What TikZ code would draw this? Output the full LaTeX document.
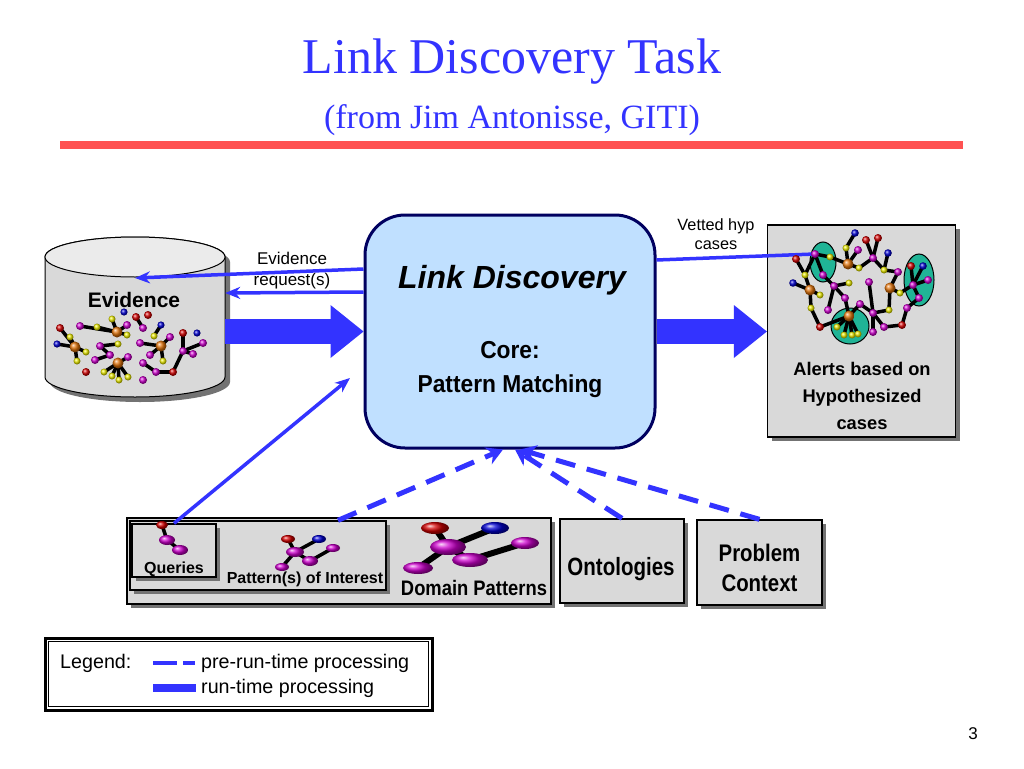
\documentclass[tikz,border=0pt]{standalone}
\usepackage{fontspec}
\setmainfont{Liberation Sans}
\newfontfamily\titlefont{Liberation Serif}
\usepackage{tikz}
\usetikzlibrary{arrows.meta,positioning,shadows}
\definecolor{runblue}{RGB}{51,51,255}
\definecolor{corefill}{RGB}{192,224,255}
\definecolor{coreline}{RGB}{0,0,96}
\definecolor{boxgray}{RGB}{217,217,217}
\definecolor{rulered}{RGB}{255,82,82}
\definecolor{hypteal}{RGB}{32,180,150}
\definecolor{atomorg}{RGB}{225,115,10}
\definecolor{atommag}{RGB}{205,0,205}
\definecolor{atomyel}{RGB}{235,235,0}
\definecolor{atomred}{RGB}{210,0,0}
\definecolor{atomblu}{RGB}{0,0,210}
\tikzset{
   shadowed/.style={drop shadow={shadow xshift=4pt, shadow yshift=-4pt, opacity=1, fill=black!55}},
   stick/.style={line width=3.5pt, black, line cap=round},
   btxt/.style 2 args={font=\fontsize{#1}{#2}\selectfont\bfseries, align=center, inner sep=0pt},
   ntxt/.style n args={3}{font=\fontsize{#1}{#2}\selectfont\bfseries\addfontfeature{FakeStretch=#3}, align=center, inner sep=0pt},
   rtxt/.style 2 args={font=\fontsize{#1}{#2}\selectfont, align=center, inner sep=0pt},
}
\tikzstyle{graybox} = [draw=black, line width=1.3pt, fill=boxgray, shadowed, inner sep=0pt]
\tikzstyle{corebox} = [draw=coreline, line width=3pt, fill=corefill, rounded corners=40pt, inner sep=0pt,
    minimum width=290pt, minimum height=233pt]
\tikzstyle{runarrow} = [runblue, line width=3.5pt, -{Stealth[length=15pt,width=12pt]}]
\tikzstyle{fatarrow} = [runblue, line width=25pt, -{Triangle[length=33pt,width=53pt,line width=0pt]}]
\tikzstyle{prearrow} = [runblue, line width=5pt, dash pattern=on 20pt off 12pt, -{Stealth[length=16pt,width=18pt]}]
\newcommand{\blob}[4]{\shade[ball color=#2] (#1) ellipse (#3pt and #4pt);}
\newcommand{\dbpath}{(45,257) -- (45,377) arc[start angle=180, end angle=360, x radius=90pt, y radius=20pt]
    -- (225,257) arc[start angle=0, end angle=180, x radius=90pt, y radius=20pt] -- cycle}

\begin{document}
\begin{tikzpicture}[x=1pt, y=-1pt]
\useasboundingbox (0,0) rectangle (1024,768);
\fill[white] (0,0) rectangle (1024,768);

% title
\node[font=\titlefont\fontsize{50}{56}\selectfont, text=runblue, anchor=base, inner sep=0pt] (title) at (512,74) {Link Discovery Task};
\node[font=\titlefont\fontsize{34}{40}\selectfont, text=runblue, anchor=base, inner sep=0pt] (credit) at (512,128) {(from Jim Antonisse, GITI)};
\draw[rulered, line width=8pt] (60,145) -- (963,145);

% evidence store
\fill[black!55, xshift=5pt, yshift=-5pt] \dbpath;
\filldraw[fill=boxgray, draw=black, line width=1pt] \dbpath;
\filldraw[fill=black!8, draw=black, line width=1pt] (135,257) ellipse (90pt and 20pt);
\node[minimum width=180pt, minimum height=160pt, inner sep=0pt] (evid) at (135,317) {};
\node[btxt={21}{25}, anchor=base] (evidlbl) at (134,307) {Evidence};
\foreach \xa/\ya/\xb/\yb in {117/332/80/326, 117/332/97/327, 117/332/112/319, 117/332/127/325, 117/332/127/335,
    136/317/143/328, 161/325/154/336, 75/347/57/344, 75/347/60/328, 75/347/70/337, 75/347/77/361, 75/347/86/352,
    100/346/110/355, 110/355/95/360, 100/346/118/344, 161/346/150/355, 161/346/170/337, 161/346/163/361,
    161/346/140/343, 118/363/104/372, 118/363/112/376, 118/363/119/380, 118/363/128/377, 118/363/128/357,
    143/363/156/372, 156/372/173/372, 173/372/183/351, 183/351/183/333, 183/351/203/343, 183/351/193/354}
  \draw[stick] (\xa,\ya) -- (\xb,\yb);
\foreach \x/\y/\c/\r in {117/332/atomorg/5.5, 75/347/atomorg/5.5, 161/346/atomorg/5.5, 118/363/atomorg/5.5,
    80/326/atommag/4, 127/325/atommag/4, 143/328/atommag/4, 100/346/atommag/4, 110/355/atommag/4,
    95/360/atommag/4, 150/355/atommag/4, 170/337/atommag/4, 140/343/atommag/4, 128/357/atommag/4,
    143/363/atommag/4, 156/372/atommag/4, 183/351/atommag/4, 203/343/atommag/4, 193/354/atommag/4,
    143/380/atommag/4, 97/327/atomyel/3.5, 112/319/atomyel/3.5, 127/335/atomyel/3.5, 154/336/atomyel/3.5,
    70/337/atomyel/3.5, 77/361/atomyel/3.5, 86/352/atomyel/3.5, 118/344/atomyel/3.5, 163/361/atomyel/3.5,
    104/372/atomyel/3.5, 112/376/atomyel/3.5, 119/380/atomyel/3.5, 128/377/atomyel/3.5, 136/317/atomred/4,
    148/315/atomred/4, 60/328/atomred/4, 173/372/atomred/4, 183/333/atomred/4, 86/372/atomred/4,
    124/312/atomblu/3.6, 161/325/atomblu/3.6, 57/344/atomblu/3.6, 197/333/atomblu/3.6}
  \shade[ball color=\c] (\x,\y) circle[radius=\r pt];

% core
\node[corebox] (core) at (510,331.5) {};
\node[font=\fontsize{32}{38}\selectfont\bfseries\itshape, anchor=base, inner sep=0pt] (coretitle) at (512,288) {Link Discovery};
\node[ntxt={24.5}{34}{0.93}] (corelbl) at (510,370) {Core:\\Pattern Matching};

% alerts
\node[graybox, minimum width=188pt, minimum height=212pt] (alerts) at (861.5,331) {};
\node[btxt={18.3}{27}] (alertlbl) at (862,396) {Alerts based on\\Hypothesized\\cases};
\filldraw[fill=hypteal, draw=black, line width=1pt] (823,262) ellipse (13pt and 20pt);
\filldraw[fill=hypteal, draw=black, line width=1pt] (919,280) ellipse (15pt and 26pt);
\filldraw[fill=hypteal, draw=black, line width=1pt] (850,326) ellipse (19pt and 18pt);
\coordinate (hyp) at (815,254);
\draw[runblue, line width=3.5pt] (core.east |- 0,260) -- (hyp);
\node[rtxt={16.3}{19}] (vetlbl) at (716,234.5) {Vetted hyp\\cases};
\foreach \xa/\ya/\xb/\yb in {796/259/805/275, 805/275/810/290, 793/283/810/290, 810/290/820/295, 810/290/811/308,
    811/308/820/327, 820/327/849/316, 805/275/815/254, 815/254/830/257, 815/254/823/275, 823/275/834/286,
    830/257/848/264, 848/264/846/248, 846/248/855/233, 848/264/858/250, 848/264/859/268, 859/268/873/258,
    873/258/866/240, 873/258/878/238, 873/258/884/270, 884/270/888/253, 884/270/898/272, 898/272/890/288,
    890/288/900/293, 890/288/889/310, 900/293/913/285, 913/285/911/266, 913/285/923/266, 913/285/928/280,
    913/285/919/298, 919/298/907/308, 907/308/902/325, 902/325/884/327, 884/327/873/313, 873/313/869/282,
    873/313/860/304, 873/313/873/332, 873/313/889/310, 860/304/849/316, 849/316/837/327, 849/316/844/335,
    849/316/852/335, 849/316/858/334, 849/316/845/298, 845/298/834/286, 834/286/849/283, 834/286/828/310}
  \draw[stick] (\xa,\ya) -- (\xb,\yb);
\foreach \x/\y/\c/\r in {848/264/atomorg/5.5, 810/290/atomorg/5.5, 890/288/atomorg/5.5, 849/316/atomorg/5.5,
    815/254/atommag/4, 858/250/atommag/4, 873/258/atommag/4, 898/272/atommag/4, 913/285/atommag/4,
    928/280/atommag/4, 919/298/atommag/4, 907/308/atommag/4, 884/327/atommag/4, 873/313/atommag/4,
    873/332/atommag/4, 860/304/atommag/4, 869/282/atommag/4, 845/298/atommag/4, 834/286/atommag/4,
    828/310/atommag/4, 823/275/atommag/4, 846/248/atomyel/3.5, 859/268/atomyel/3.5, 884/270/atomyel/3.5,
    900/293/atomyel/3.5, 889/310/atomyel/3.5, 837/327/atomyel/3.5, 844/335/atomyel/3.5, 852/335/atomyel/3.5,
    858/334/atomyel/3.5, 849/283/atomyel/3.5, 820/295/atomyel/3.5, 811/308/atomyel/3.5, 805/275/atomyel/3.5,
    830/257/atomyel/3.5, 796/259/atomred/4, 866/240/atomred/4, 878/238/atomred/4, 911/266/atomred/4,
    902/325/atomred/4, 820/327/atomred/4, 855/233/atomblu/3.8, 888/253/atomblu/3.8, 923/266/atomblu/3.8,
    793/283/atomblu/3.8}
  \shade[ball color=\c] (\x,\y) circle[radius=\r pt];

% inputs
\node[graybox, minimum width=424pt, minimum height=86pt] (domain) at (339,561) {};
\node[graybox, minimum width=256pt, minimum height=69pt] (interest) at (258,555.5) {};
\node[graybox, minimum width=84pt, minimum height=53pt] (queries) at (174,550.5) {};
\node[graybox, minimum width=124pt, minimum height=84pt] (onto) at (622,561) {};
\node[graybox, minimum width=125pt, minimum height=85pt] (context) at (759.5,562.5) {};
\node[btxt={16}{19}, anchor=base] (querylbl) at (174,573) {Queries};
\node[btxt={16}{19}, anchor=base] (interestlbl) at (305,583) {Pattern(s) of Interest};
\node[ntxt={21}{25}{0.875}, anchor=base] (domainlbl) at (474,595) {Domain Patterns};
\node[ntxt={25}{30}{0.82}, anchor=base] (ontolbl) at (621,575) {Ontologies};
\node[ntxt={24}{30}{0.85}] (contextlbl) at (759.5,568) {Problem\\Context};
\draw[stick] (162,525) -- (167,540) -- (180,550);
\blob{162,525}{atomred}{6}{4}
\blob{167,540}{atommag}{8}{5}
\blob{180,550}{atommag}{8}{5}
\draw[stick] (288,539) -- (295,552) -- (319,539) (295,552) -- (310,561) -- (333,548) (295,552) -- (282,567);
\blob{288,539}{atomred}{7}{4}
\blob{319,539}{atomblu}{7}{4}
\blob{295,552}{atommag}{9}{5}
\blob{310,561}{atommag}{8}{5}
\blob{333,548}{atommag}{7}{4}
\blob{282,567}{atommag}{7}{4}
\draw[stick, line width=6pt] (435,528) -- (448,547) -- (495,528) (448,547) -- (470,560) -- (525,543) (448,547) -- (418,568);
\blob{435,528}{atomred}{14}{6}
\blob{495,528}{atomblu}{14}{6}
\blob{448,547}{atommag}{18}{8}
\blob{470,560}{atommag}{18}{7}
\blob{525,543}{atommag}{14}{6}
\blob{418,568}{atommag}{15}{6}

% flows
\coordinate (reqtip) at (135,278);
\coordinate (qtip) at (350,378);
\node[rtxt={17}{21}] (reqlbl) at (292,271) {Evidence\\request(s)};
\draw[runarrow] (core.west |- 0,269) -- (reqtip);
\draw[runarrow] (core.west |- 0,292) -- (evid.east |- 0,293);
\draw[fatarrow] (evid.east |- core.west) -- (core.west);
\draw[fatarrow] (core.east) -- (alerts.west |- core.east);
\draw[runarrow] (queries.north) -- (qtip);
\draw[prearrow] ([xshift=80pt]interest.north) -- ([xshift=-7pt]core.south);
\draw[prearrow] (onto.north) -- ([xshift=5pt]core.south);
\draw[prearrow] (context.north) -- ([xshift=10pt]core.south);

% legend
\node[draw=black, line width=3pt, minimum width=387pt, minimum height=72pt, inner sep=0pt] (legend) at (238.5,674) {};
\draw[line width=1pt] ([shift={(5pt,-5pt)}]legend.north west) rectangle ([shift={(-5pt,5pt)}]legend.south east);
\node[rtxt={19.7}{24}, anchor=base west] (legendlbl) at (60,668) {Legend:};
\draw[runblue, line width=4.5pt, dash pattern=on 24pt off 6pt] (153,663) -- (195,663);
\draw[runblue, line width=8pt] (153,688) -- (196,688);
\node[rtxt={19.7}{24}, anchor=base west] (prelbl) at (201,668) {pre-run-time processing};
\node[rtxt={19.7}{24}, anchor=base west] (runlbl) at (201,693) {run-time processing};

\node[rtxt={17}{20}, anchor=base] (pageno) at (973,739) {3};
\end{tikzpicture}
\end{document}
